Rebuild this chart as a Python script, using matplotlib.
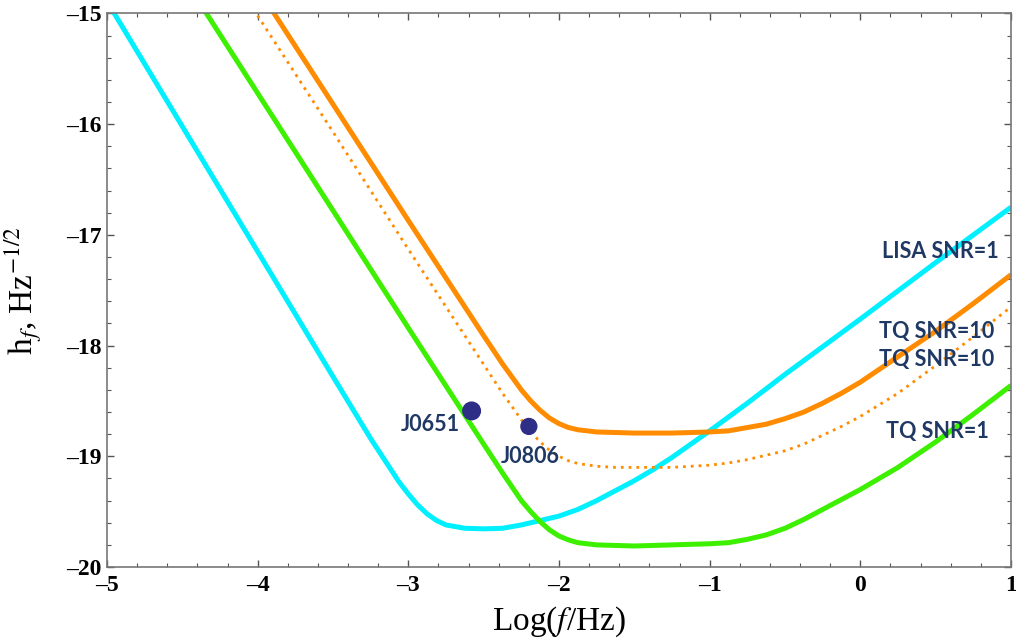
import matplotlib
matplotlib.use("Agg")
import matplotlib.pyplot as plt
from matplotlib.ticker import MultipleLocator

# curve samples: x = Log(f/Hz), y = log h_f
lisa_x = [-5.0, -4.5, -4.0, -3.5, -3.25, -3.1875, -3.125, -3.0625, -3.0, -2.9375, -2.875,
          -2.8125, -2.75, -2.625, -2.5, -2.375, -2.25, -2.125, -2.0, -1.875, -1.75,
          -1.625, -1.5, -1.375, -1.25, -1.125, -1.0, -0.75, -0.5, 0.0, 0.5, 1.0]
lisa_y = [-14.89, -16.02, -17.15, -18.28, -18.84, -18.97, -19.10, -19.23, -19.34, -19.44, -19.52,
          -19.58, -19.62, -19.65, -19.655, -19.65, -19.62, -19.58, -19.54, -19.48, -19.40,
          -19.31, -19.22, -19.12, -19.01, -18.89, -18.77, -18.52, -18.26, -17.76, -17.25, -16.75]

tq1_x = [-4.5, -4.0, -3.5, -3.0, -2.5, -2.375, -2.25, -2.1875, -2.125, -2.0625, -2.0,
         -1.9375, -1.875, -1.75, -1.625, -1.5, -1.25, -1.0, -0.875, -0.75, -0.625, -0.5,
         -0.375, -0.25, -0.125, 0.0, 0.25, 0.5, 0.75, 1.0]
tq1_y = [-14.66, -15.72, -16.78, -17.84, -18.89, -19.15, -19.40, -19.50, -19.59, -19.665, -19.72,
         -19.755, -19.78, -19.80, -19.805, -19.81, -19.80, -19.79, -19.78, -19.75, -19.71, -19.65,
         -19.57, -19.48, -19.39, -19.30, -19.10, -18.87, -18.62, -18.36]

tq10_x = [-4.0, -3.5, -3.0, -2.5, -2.375, -2.25, -2.1875, -2.125, -2.0625, -2.0, -1.9375,
          -1.875, -1.75, -1.625, -1.5, -1.25, -1.0, -0.875, -0.75, -0.625, -0.5, -0.375,
          -0.25, -0.125, 0.0, 0.25, 0.5, 0.75, 1.0]
tq10_y = [-14.77, -15.82, -16.87, -17.91, -18.165, -18.40, -18.50, -18.585, -18.655, -18.705, -18.74,
          -18.76, -18.78, -18.785, -18.79, -18.79, -18.78, -18.77, -18.74, -18.71, -18.66, -18.60,
          -18.52, -18.43, -18.33, -18.10, -17.87, -17.62, -17.36]

tq10b_x = [-4.0, -3.5, -3.0, -2.5, -2.375, -2.25, -2.1875, -2.125, -2.0625, -2.0, -1.9375,
           -1.875, -1.75, -1.625, -1.5, -1.25, -1.0, -0.875, -0.75, -0.625, -0.5, -0.375,
           -0.25, -0.125, 0.0, 0.25, 0.5, 0.75, 1.0]
tq10b_y = [-15.02, -16.07, -17.13, -18.17, -18.43, -18.67, -18.78, -18.87, -18.945, -19.0, -19.04,
           -19.065, -19.09, -19.10, -19.10, -19.10, -19.08, -19.06, -19.03, -18.99, -18.95, -18.89,
           -18.81, -18.73, -18.64, -18.43, -18.18, -17.92, -17.65]

# binaries
src_names = ["J0651", "J0806"]
src_x = [-2.58, -2.20]
src_y = [-18.59, -18.73]
src_size = [160, 130]

x_ticks = [-5, -4, -3, -2, -1, 0, 1]
y_ticks = [-20, -19, -18, -17, -16, -15]

plt.rcParams['mathtext.fontset'] = 'stix'

fig = plt.figure(figsize=(10.16, 6.41), dpi=100)
ax = fig.add_axes([0.1053, 0.1154, 0.8898, 0.8636])

ax.plot(lisa_x, lisa_y, color='#00f0ff', lw=3.6, solid_capstyle='butt', solid_joinstyle='round')
ax.plot(tq1_x, tq1_y, color='#3cf000', lw=3.6, solid_capstyle='butt', solid_joinstyle='round')
ax.plot(tq10_x, tq10_y, color='#ff8c00', lw=3.6, solid_capstyle='butt', solid_joinstyle='round')
ax.plot(tq10b_x, tq10b_y, color='#ff8c00', lw=2.0, linestyle=(0, (1, 1.8)))

ax.scatter(src_x, src_y, s=src_size, color='#2e2e86', zorder=5)

lab = dict(color='#1f3864', fontsize=15.5, fontweight='bold', family='Lato')
ax.text(-2.66, -18.71, src_names[0], ha='right', va='center', **lab)
ax.text(-2.19, -19.0, src_names[1], ha='center', va='center', **lab)
ax.text(0.92, -17.15, "LISA SNR=1", ha='right', va='center', **lab)
ax.text(0.886, -17.87, "TQ SNR=10", ha='right', va='center', **lab)
ax.text(0.886, -18.13, "TQ SNR=10", ha='right', va='center', **lab)
ax.text(0.853, -18.78, "TQ SNR=1", ha='right', va='center', **lab)

# frame and ticks
for s in ax.spines.values():
    s.set_color('#777777')
    s.set_linewidth(1.2)
tick_font = dict(family='Liberation Serif', fontweight='bold', fontsize=17)
ax.set_xticks(x_ticks, [str(v).replace('-', '\u2013') for v in x_ticks], **tick_font)
ax.set_yticks(y_ticks, [str(v).replace('-', '\u2013') for v in y_ticks], **tick_font)
ax.xaxis.set_minor_locator(MultipleLocator(0.2))
ax.yaxis.set_minor_locator(MultipleLocator(0.2))
ax.tick_params(which='both', direction='in', top=True, right=True, color='#555555')
ax.tick_params(which='major', length=5, width=1)
ax.tick_params(which='minor', length=3, width=0.8)
ax.tick_params(axis='x', pad=6)
ax.tick_params(axis='y', pad=4)
ax.set_xlim(-5, 1)
ax.set_ylim(-20, -15)

ax.set_xlabel(r'Log($f$/Hz)', family='Liberation Serif', fontsize=24)
ax.set_ylabel(r'h$_f$, Hz$^{-1/2}$', family='Liberation Serif', fontsize=24)
ax.yaxis.set_label_coords(-0.07, 0.5)
ax.xaxis.set_label_coords(0.5, -0.068)

plt.savefig('out.png', dpi=100)
